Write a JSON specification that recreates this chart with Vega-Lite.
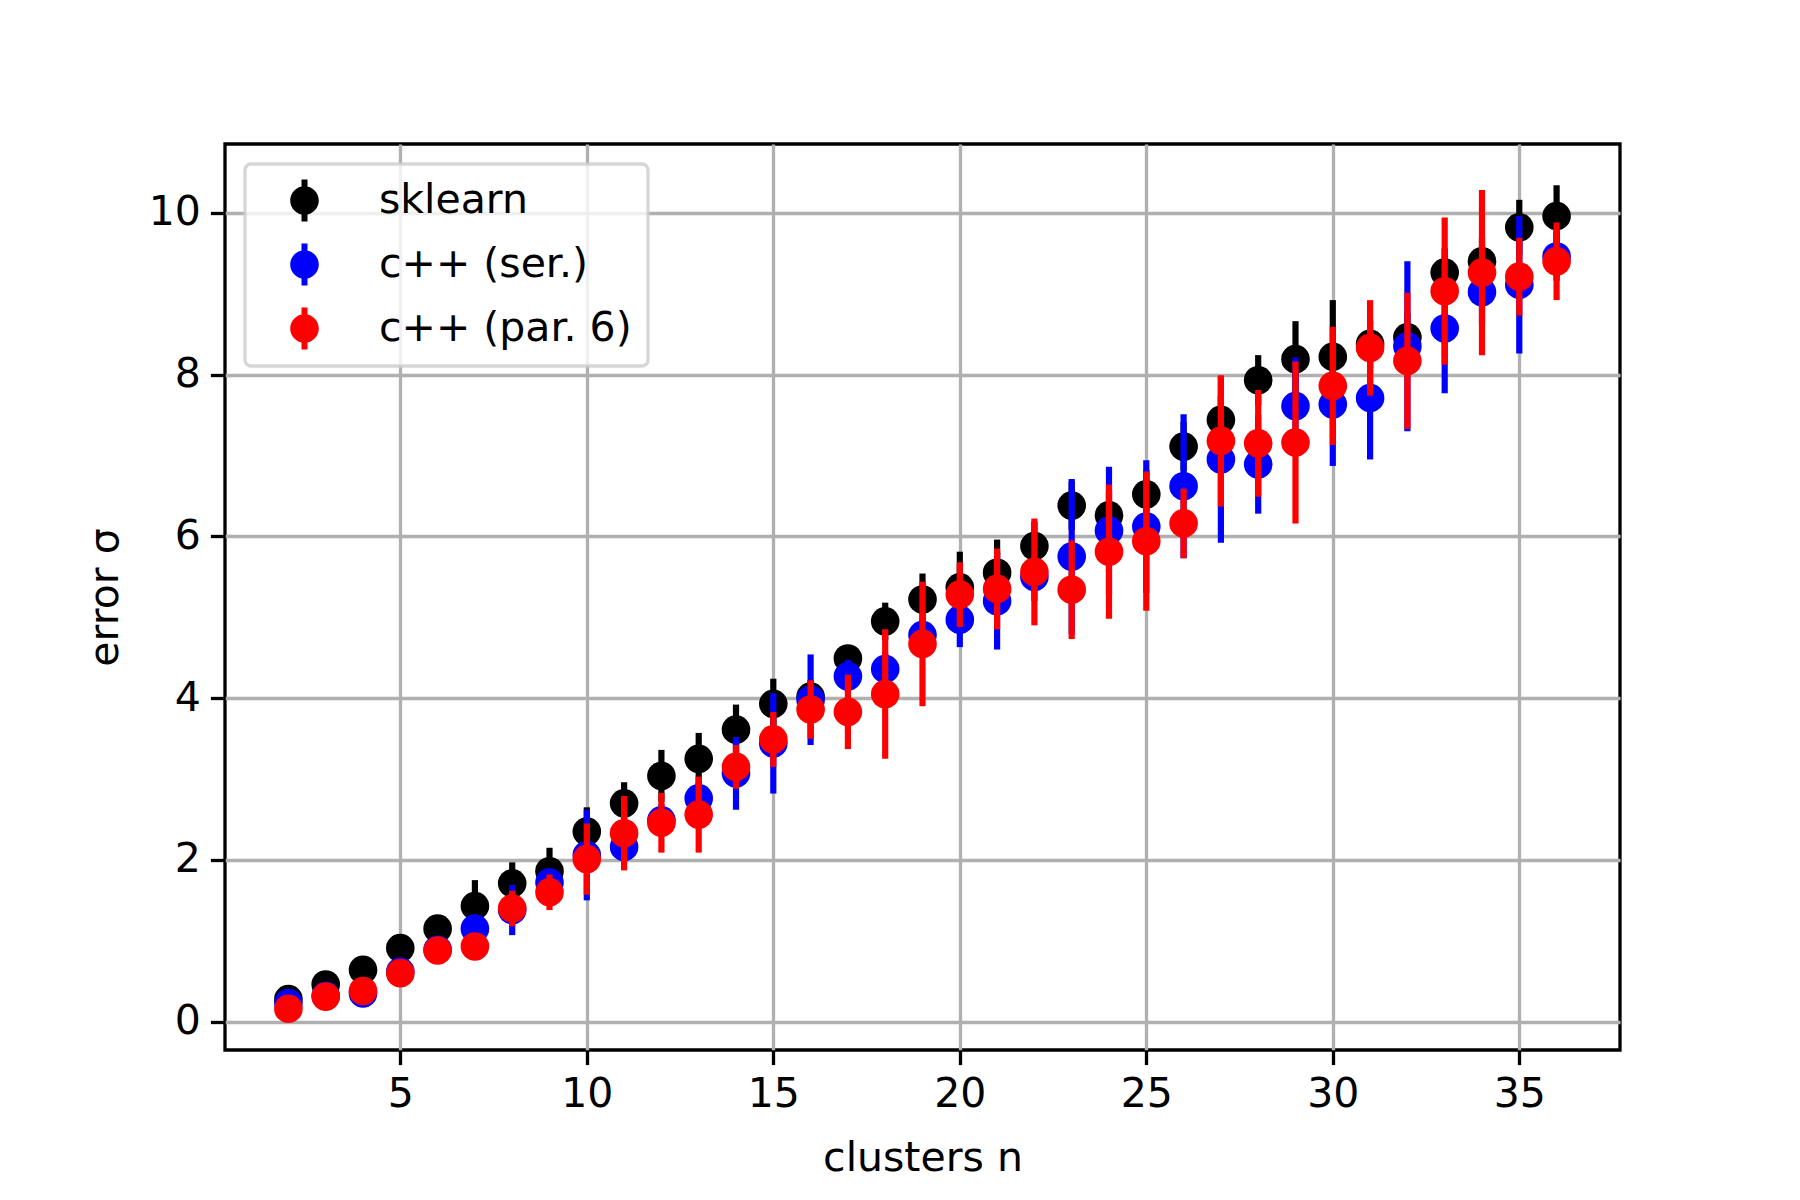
{
  "$schema": "https://vega.github.io/schema/vega-lite/v6.json",
  "width": 1395,
  "height": 906,
  "autosize": {"type": "none"},
  "padding": {"left": 225, "top": 144, "right": 180, "bottom": 150},
  "background": "white",
  "data": {
    "values": [
      {"n": 2, "s": "sklearn", "y": 0.28, "err": 0.05},
      {"n": 3, "s": "sklearn", "y": 0.46, "err": 0.08},
      {"n": 4, "s": "sklearn", "y": 0.64, "err": 0.1},
      {"n": 5, "s": "sklearn", "y": 0.91, "err": 0.12},
      {"n": 6, "s": "sklearn", "y": 1.15, "err": 0.12},
      {"n": 7, "s": "sklearn", "y": 1.43, "err": 0.32},
      {"n": 8, "s": "sklearn", "y": 1.71, "err": 0.26},
      {"n": 9, "s": "sklearn", "y": 1.86, "err": 0.29},
      {"n": 10, "s": "sklearn", "y": 2.35, "err": 0.3},
      {"n": 11, "s": "sklearn", "y": 2.7, "err": 0.26},
      {"n": 12, "s": "sklearn", "y": 3.04, "err": 0.32},
      {"n": 13, "s": "sklearn", "y": 3.25, "err": 0.32},
      {"n": 14, "s": "sklearn", "y": 3.61, "err": 0.31},
      {"n": 15, "s": "sklearn", "y": 3.93, "err": 0.31},
      {"n": 16, "s": "sklearn", "y": 4.02, "err": 0.2},
      {"n": 17, "s": "sklearn", "y": 4.49, "err": 0.12},
      {"n": 18, "s": "sklearn", "y": 4.95, "err": 0.23},
      {"n": 19, "s": "sklearn", "y": 5.22, "err": 0.32},
      {"n": 20, "s": "sklearn", "y": 5.37, "err": 0.44},
      {"n": 21, "s": "sklearn", "y": 5.55, "err": 0.41},
      {"n": 22, "s": "sklearn", "y": 5.88, "err": 0.3},
      {"n": 23, "s": "sklearn", "y": 6.38, "err": 0.3},
      {"n": 24, "s": "sklearn", "y": 6.26, "err": 0.3},
      {"n": 25, "s": "sklearn", "y": 6.52, "err": 0.3},
      {"n": 26, "s": "sklearn", "y": 7.11, "err": 0.3},
      {"n": 27, "s": "sklearn", "y": 7.44, "err": 0.3},
      {"n": 28, "s": "sklearn", "y": 7.93, "err": 0.31},
      {"n": 29, "s": "sklearn", "y": 8.19, "err": 0.47},
      {"n": 30, "s": "sklearn", "y": 8.22, "err": 0.7},
      {"n": 31, "s": "sklearn", "y": 8.38, "err": 0.3},
      {"n": 32, "s": "sklearn", "y": 8.46, "err": 0.3},
      {"n": 33, "s": "sklearn", "y": 9.26, "err": 0.3},
      {"n": 34, "s": "sklearn", "y": 9.4, "err": 0.3},
      {"n": 35, "s": "sklearn", "y": 9.82, "err": 0.34},
      {"n": 36, "s": "sklearn", "y": 9.96, "err": 0.38},
      {"n": 2, "s": "c++ (ser.)", "y": 0.23, "err": 0.05},
      {"n": 3, "s": "c++ (ser.)", "y": 0.32, "err": 0.05},
      {"n": 4, "s": "c++ (ser.)", "y": 0.35, "err": 0.05},
      {"n": 5, "s": "c++ (ser.)", "y": 0.62, "err": 0.08},
      {"n": 6, "s": "c++ (ser.)", "y": 0.89, "err": 0.08},
      {"n": 7, "s": "c++ (ser.)", "y": 1.15, "err": 0.15},
      {"n": 8, "s": "c++ (ser.)", "y": 1.38, "err": 0.31},
      {"n": 9, "s": "c++ (ser.)", "y": 1.72, "err": 0.15},
      {"n": 10, "s": "c++ (ser.)", "y": 2.06, "err": 0.56},
      {"n": 11, "s": "c++ (ser.)", "y": 2.16, "err": 0.15},
      {"n": 12, "s": "c++ (ser.)", "y": 2.49, "err": 0.2},
      {"n": 13, "s": "c++ (ser.)", "y": 2.76, "err": 0.2},
      {"n": 14, "s": "c++ (ser.)", "y": 3.07, "err": 0.45},
      {"n": 15, "s": "c++ (ser.)", "y": 3.44, "err": 0.62},
      {"n": 16, "s": "c++ (ser.)", "y": 3.98, "err": 0.56},
      {"n": 17, "s": "c++ (ser.)", "y": 4.27, "err": 0.2},
      {"n": 18, "s": "c++ (ser.)", "y": 4.36, "err": 0.2},
      {"n": 19, "s": "c++ (ser.)", "y": 4.78, "err": 0.2},
      {"n": 20, "s": "c++ (ser.)", "y": 4.97, "err": 0.34},
      {"n": 21, "s": "c++ (ser.)", "y": 5.2, "err": 0.6},
      {"n": 22, "s": "c++ (ser.)", "y": 5.5, "err": 0.3},
      {"n": 23, "s": "c++ (ser.)", "y": 5.75, "err": 0.96},
      {"n": 24, "s": "c++ (ser.)", "y": 6.07, "err": 0.79},
      {"n": 25, "s": "c++ (ser.)", "y": 6.12, "err": 0.82},
      {"n": 26, "s": "c++ (ser.)", "y": 6.62, "err": 0.89},
      {"n": 27, "s": "c++ (ser.)", "y": 6.95, "err": 1.03},
      {"n": 28, "s": "c++ (ser.)", "y": 6.89, "err": 0.61},
      {"n": 29, "s": "c++ (ser.)", "y": 7.61, "err": 0.6},
      {"n": 30, "s": "c++ (ser.)", "y": 7.63, "err": 0.76},
      {"n": 31, "s": "c++ (ser.)", "y": 7.71, "err": 0.76},
      {"n": 32, "s": "c++ (ser.)", "y": 8.35, "err": 1.05},
      {"n": 33, "s": "c++ (ser.)", "y": 8.57, "err": 0.8},
      {"n": 34, "s": "c++ (ser.)", "y": 9.02, "err": 0.4},
      {"n": 35, "s": "c++ (ser.)", "y": 9.11, "err": 0.85},
      {"n": 36, "s": "c++ (ser.)", "y": 9.46, "err": 0.3},
      {"n": 2, "s": "c++ (par. 6)", "y": 0.16, "err": 0.05},
      {"n": 3, "s": "c++ (par. 6)", "y": 0.31, "err": 0.05},
      {"n": 4, "s": "c++ (par. 6)", "y": 0.38, "err": 0.05},
      {"n": 5, "s": "c++ (par. 6)", "y": 0.6, "err": 0.08},
      {"n": 6, "s": "c++ (par. 6)", "y": 0.88, "err": 0.08},
      {"n": 7, "s": "c++ (par. 6)", "y": 0.93, "err": 0.1},
      {"n": 8, "s": "c++ (par. 6)", "y": 1.4, "err": 0.22},
      {"n": 9, "s": "c++ (par. 6)", "y": 1.6, "err": 0.22},
      {"n": 10, "s": "c++ (par. 6)", "y": 2.01, "err": 0.44},
      {"n": 11, "s": "c++ (par. 6)", "y": 2.33, "err": 0.46},
      {"n": 12, "s": "c++ (par. 6)", "y": 2.46, "err": 0.37},
      {"n": 13, "s": "c++ (par. 6)", "y": 2.56, "err": 0.47},
      {"n": 14, "s": "c++ (par. 6)", "y": 3.15, "err": 0.27},
      {"n": 15, "s": "c++ (par. 6)", "y": 3.49, "err": 0.34},
      {"n": 16, "s": "c++ (par. 6)", "y": 3.86, "err": 0.36},
      {"n": 17, "s": "c++ (par. 6)", "y": 3.83, "err": 0.46},
      {"n": 18, "s": "c++ (par. 6)", "y": 4.05, "err": 0.8},
      {"n": 19, "s": "c++ (par. 6)", "y": 4.67, "err": 0.77},
      {"n": 20, "s": "c++ (par. 6)", "y": 5.28, "err": 0.4},
      {"n": 21, "s": "c++ (par. 6)", "y": 5.35, "err": 0.5},
      {"n": 22, "s": "c++ (par. 6)", "y": 5.56, "err": 0.66},
      {"n": 23, "s": "c++ (par. 6)", "y": 5.34, "err": 0.61},
      {"n": 24, "s": "c++ (par. 6)", "y": 5.81, "err": 0.83},
      {"n": 25, "s": "c++ (par. 6)", "y": 5.94, "err": 0.86},
      {"n": 26, "s": "c++ (par. 6)", "y": 6.16, "err": 0.43},
      {"n": 27, "s": "c++ (par. 6)", "y": 7.18, "err": 0.81},
      {"n": 28, "s": "c++ (par. 6)", "y": 7.15, "err": 0.66},
      {"n": 29, "s": "c++ (par. 6)", "y": 7.16, "err": 1.0},
      {"n": 30, "s": "c++ (par. 6)", "y": 7.86, "err": 0.73},
      {"n": 31, "s": "c++ (par. 6)", "y": 8.33, "err": 0.59},
      {"n": 32, "s": "c++ (par. 6)", "y": 8.17, "err": 0.84},
      {"n": 33, "s": "c++ (par. 6)", "y": 9.03, "err": 0.91},
      {"n": 34, "s": "c++ (par. 6)", "y": 9.26, "err": 1.02},
      {"n": 35, "s": "c++ (par. 6)", "y": 9.21, "err": 0.48},
      {"n": 36, "s": "c++ (par. 6)", "y": 9.4, "err": 0.48}
    ]
  },
  "encoding": {
    "x": {
      "field": "n", "type": "quantitative", "title": "clusters n",
      "scale": {"domain": [0.3, 37.7], "nice": false, "zero": false},
      "axis": {"values": [5, 10, 15, 20, 25, 30, 35], "format": "d", "titlePadding": 24}
    },
    "y": {
      "field": "y", "type": "quantitative", "title": "error σ",
      "scale": {"domain": [-0.35, 10.85], "nice": false, "zero": false},
      "axis": {"values": [0, 2, 4, 6, 8, 10], "format": "d", "titlePadding": 22}
    },
    "color": {
      "field": "s", "type": "nominal",
      "scale": {"domain": ["sklearn", "c++ (ser.)", "c++ (par. 6)"], "range": ["#000000", "#0000ff", "#ff0000"]},
      "legend": {"title": null, "orient": "top-left", "offset": 20}
    }
  },
  "layer": [
    {
      "transform": [{"filter": "datum.s == 'sklearn'"}],
      "mark": {"type": "errorbar", "thickness": 6.2},
      "encoding": {"yError": {"field": "err"}}
    },
    {
      "transform": [{"filter": "datum.s == 'sklearn'"}],
      "mark": {"type": "point", "filled": true, "size": 818, "opacity": 1}
    },
    {
      "transform": [{"filter": "datum.s == 'c++ (ser.)'"}],
      "mark": {"type": "errorbar", "thickness": 6.2},
      "encoding": {"yError": {"field": "err"}}
    },
    {
      "transform": [{"filter": "datum.s == 'c++ (ser.)'"}],
      "mark": {"type": "point", "filled": true, "size": 818, "opacity": 1}
    },
    {
      "transform": [{"filter": "datum.s == 'c++ (par. 6)'"}],
      "mark": {"type": "errorbar", "thickness": 6.2},
      "encoding": {"yError": {"field": "err"}}
    },
    {
      "transform": [{"filter": "datum.s == 'c++ (par. 6)'"}],
      "mark": {"type": "point", "filled": true, "size": 818, "opacity": 1}
    }
  ],
  "config": {
    "font": "DejaVu Sans",
    "view": {"stroke": "#000000", "strokeWidth": 3.3},
    "axis": {
      "domain": false,
      "grid": true,
      "gridColor": "#b0b0b0",
      "gridWidth": 3.3,
      "tickColor": "#000000",
      "tickWidth": 3.3,
      "tickSize": 14.6,
      "labelFont": "DejaVu Sans",
      "labelFontSize": 41,
      "labelColor": "#000000",
      "labelPadding": 10,
      "titleFont": "DejaVu Sans",
      "titleFontSize": 41,
      "titleFontWeight": "normal",
      "titleColor": "#000000"
    },
    "legend": {
      "symbolType": "M-1,0A1,1,0,1,1,1,0A1,1,0,1,1,-1,0ZM-0.21,-1.46L0.21,-1.46L0.21,1.46L-0.21,1.46Z",
      "symbolSize": 818,
      "symbolStrokeWidth": 0,
      "symbolOffset": 23,
      "symbolOpacity": 1,
      "labelFont": "DejaVu Sans",
      "labelFontSize": 41,
      "labelColor": "#000000",
      "labelOffset": 54,
      "labelLimit": 0,
      "rowPadding": 21,
      "padding": 16,
      "fillColor": "rgba(255,255,255,0.8)",
      "strokeColor": "rgba(204,204,204,0.8)",
      "strokeWidth": 3.3,
      "cornerRadius": 6
    }
  }
}
